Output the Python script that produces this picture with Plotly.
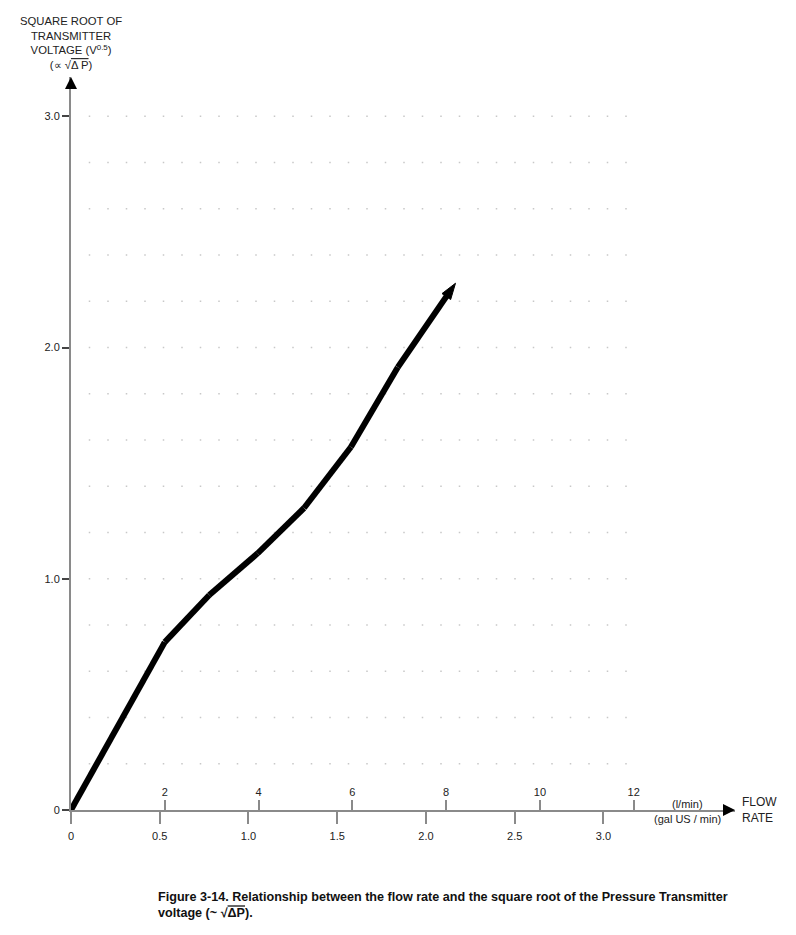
"""
Flow rate vs square root of pressure transmitter voltage.
"""

import plotly.graph_objects as go

LPM_PER_GAL = 3.78541

# curve (flow in l/min, sqrt voltage)
FLOW_LPM = [0, 2.0, 2.95, 3.98, 4.97, 5.97, 6.97, 8.2]
SQRT_V = [0, 0.726, 0.93, 1.11, 1.306, 1.57, 1.915, 2.278]

GAL_TICKS = [0, 0.5, 1.0, 1.5, 2.0, 2.5, 3.0]
GAL_LABELS = ["0", "0.5", "1.0", "1.5", "2.0", "2.5", "3.0"]
LPM_TICKS = [2, 4, 6, 8, 10, 12]
Y_TICKS = [0, 1.0, 2.0, 3.0]
Y_LABELS = ["0", "1.0", "2.0", "3.0"]
GRID_ROWS = [0.2, 0.4, 0.6, 0.8, 1.0, 1.2, 1.4, 1.6, 1.8, 2.0,
             2.2, 2.4, 2.6, 2.8, 3.0]

X_MAX_GAL = 3.741
Y_MAX = 3.17

AXIS = "#8a8a8a"
TEXT = "#222"
FONT = "Liberation Sans, Arial, sans-serif"

fig = go.Figure()

# marker sizes: only the last point carries the arrow head
sizes = [0] * (len(FLOW_LPM) - 1) + [17]
fig.add_trace(go.Scatter(
    x=FLOW_LPM, y=SQRT_V, xaxis="x2",
    mode="lines+markers",
    line=dict(color="#000", width=6),
    marker=dict(symbol="arrow", angleref="previous", size=sizes,
                color="#000", opacity=1, line=dict(width=1, color="#000")),
    cliponaxis=False,
    showlegend=False,
    hoverinfo="skip",
))

# faint dotted rows
for gy in GRID_ROWS:
    fig.add_shape(type="line", xref="x", yref="y",
                  x0=0.1, x1=3.2, y0=gy, y1=gy,
                  line=dict(color="#c8c8c8", width=1.5, dash="1.5px,17px"),
                  layer="below")

# page body adds 8px margin, so the figure is a bit smaller than the window
fig.update_layout(
    width=780, height=919,
    margin=dict(l=63, r=53, t=69, b=117),
    plot_bgcolor="#fff", paper_bgcolor="#fff",
    font=dict(family=FONT, color=TEXT, size=11),
    xaxis=dict(
        range=[0, X_MAX_GAL], showgrid=False, zeroline=False,
        showline=True, linecolor=AXIS, linewidth=2,
        ticks="outside", ticklen=12, tickwidth=1.5, tickcolor=AXIS,
        tickvals=GAL_TICKS, ticktext=GAL_LABELS, ticklabelstandoff=3,
        tickfont=dict(size=11, color=TEXT),
    ),
    xaxis2=dict(
        overlaying="x", side="top", anchor="free", position=0,
        range=[0, X_MAX_GAL * LPM_PER_GAL], showgrid=False, zeroline=False,
        showline=False,
        ticks="outside", ticklen=10, tickwidth=1.5, tickcolor=AXIS,
        tickvals=LPM_TICKS, tickfont=dict(size=11, color=TEXT),
    ),
    yaxis=dict(
        range=[0, Y_MAX], showgrid=False, zeroline=False,
        showline=True, linecolor=AXIS, linewidth=2,
        ticks="outside", ticklen=7, tickwidth=1.5, tickcolor="#444",
        tickvals=Y_TICKS, ticktext=Y_LABELS,
        tickfont=dict(size=11, color=TEXT),
    ),
)

# axis arrow heads
fig.add_annotation(x=X_MAX_GAL, y=0, xref="x", yref="y", ax=-12, ay=0,
                   text="", showarrow=True, arrowhead=2, arrowsize=1.2,
                   arrowwidth=2, arrowcolor="black")
fig.add_annotation(x=0, y=Y_MAX, xref="x", yref="y", ax=0, ay=12,
                   text="", showarrow=True, arrowhead=2, arrowsize=1.2,
                   arrowwidth=2, arrowcolor="black")

# y axis title
fig.add_annotation(
    x=0, y=1, xref="paper", yref="paper", xanchor="center", yanchor="bottom",
    yshift=5, showarrow=False, borderpad=0,
    text=("SQUARE ROOT OF<br>TRANSMITTER<br>VOLTAGE (V<sup>0.5</sup>)<br>"
          "(∝ √<span style='text-decoration:overline'>Δ P</span>)"),
    font=dict(size=11.3, color=TEXT),
)

# x axis unit labels
fig.add_annotation(x=0.929, y=0, xref="paper", yref="paper",
                   xanchor="center", yanchor="bottom", yshift=-2,
                   showarrow=False, text="(l/min)", font=dict(size=11))
fig.add_annotation(x=0.929, y=0, xref="paper", yref="paper",
                   xanchor="center", yanchor="top", yshift=-1,
                   showarrow=False, text="(gal US / min)", font=dict(size=11))
fig.add_annotation(x=1.008, y=0, xref="paper", yref="paper",
                   xanchor="left", yanchor="middle",
                   showarrow=False, align="left",
                   text="FLOW<br>RATE", font=dict(size=12))

# caption
fig.add_annotation(
    x=0.128, y=-0.107, xref="paper", yref="paper",
    xanchor="left", yanchor="top", align="left", showarrow=False,
    text=("<b>Figure 3-14. Relationship between the flow rate and the square "
          "root of the Pressure Transmitter<br>voltage (~ √<span "
          "style='text-decoration:overline'>ΔP</span>).</b>"),
    font=dict(size=12.6, color="#111"),
)

fig.write_html("out.html")
